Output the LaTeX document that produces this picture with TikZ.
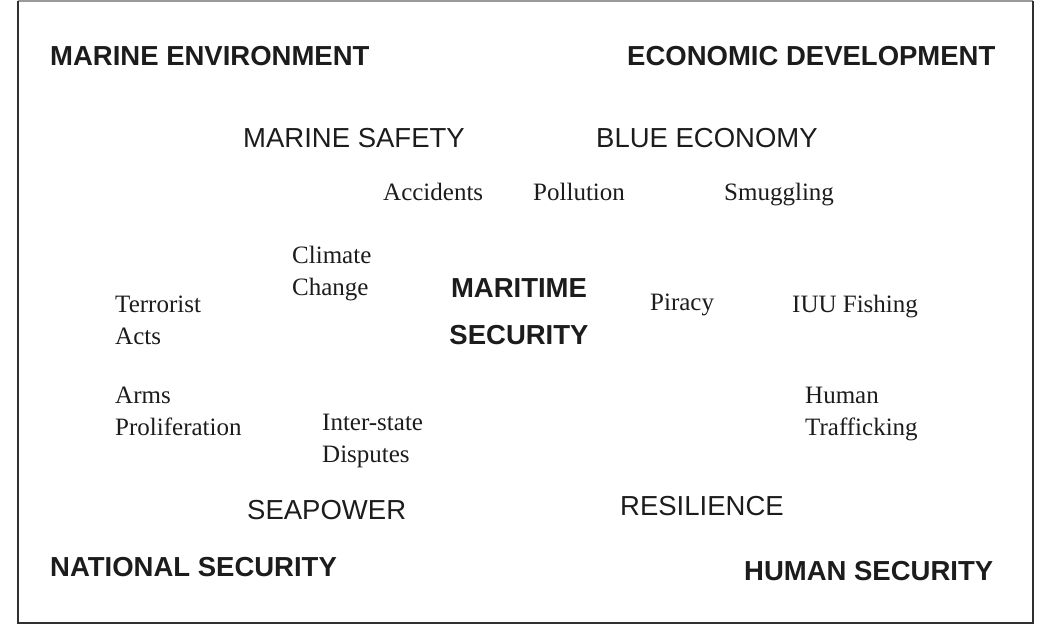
\documentclass[tikz,border=0pt]{standalone}
\usepackage{fontspec}
\setmainfont{Liberation Serif}
\setsansfont{Liberation Sans}
\definecolor{msInk}{HTML}{1C1C1C}
\definecolor{msFrame}{HTML}{303030}
\definecolor{msEdge}{HTML}{9A9A9A}
\usepackage{tikz}
\usetikzlibrary{positioning}

\begin{document}
\begin{tikzpicture}[x=1pt, y=-1pt,
  field/.style={inner sep=0pt, anchor=base west, text=msInk,
    font=\sffamily\bfseries\fontsize{27.5}{33}\selectfont},
  ring/.style={inner sep=0pt, anchor=base west, text=msInk,
    font=\sffamily\fontsize{27.5}{33}\selectfont},
  issue/.style={inner sep=0pt, anchor=base west, text=msInk, align=left,
    font=\fontsize{25}{32}\selectfont},
  core/.style={inner sep=0pt, anchor=base, text=msInk, align=center,
    font=\sffamily\bfseries\fontsize{27.5}{47}\selectfont}
]
  \useasboundingbox (0,0) rectangle (1044,637);
  \coordinate (tl) at (18,1);
  \coordinate (tr) at (1033,1);
  \coordinate (br) at (1033,623);
  \coordinate (bl) at (18,623);
  \draw[msEdge, line width=1.5pt] (tl) -- (tr);
  \draw[msFrame, line width=2pt] (tl) -- (bl) -- (br) -- (tr);

  % outer fields
  \node[field] (env)  at (50,65)  {MARINE ENVIRONMENT};
  \node[field] (econ) at (627,65) {ECONOMIC DEVELOPMENT};
  \node[field] (nat)  at (50,576) {NATIONAL SECURITY};
  \node[field] (hum)  at (744,580) {HUMAN SECURITY};

  % middle ring
  \node[ring] (safety) at (243,147) {MARINE SAFETY};
  \node[ring] (blue)   at (596,147) {BLUE ECONOMY};
  \node[ring] (sea)    at (247,519) {SEAPOWER};
  \node[ring] (resil)  at (620,515) {RESILIENCE};

  % centre (base = last line)
  \node[core] (mar) at (519,344) {MARITIME\\SECURITY};

  % issues
  \node[issue] (acc)   at (383,200) {Accidents};
  \node[issue] (poll)  at (533,200) {Pollution};
  \node[issue] (smug)  at (724,200) {Smuggling};
  \node[issue] (clim)  at (292,295) {Climate\\Change};
  \node[issue] (terr)  at (115,344) {Terrorist\\Acts};
  \node[issue] (pir)   at (650,310) {Piracy};
  \node[issue] (iuu)   at (792,312) {IUU Fishing};
  \node[issue] (arms)  at (115,435) {Arms\\Proliferation};
  \node[issue] (inter) at (322,462) {Inter-state\\Disputes};
  \node[issue] (traf)  at (805,435) {Human\\Trafficking};
\end{tikzpicture}
\end{document}
